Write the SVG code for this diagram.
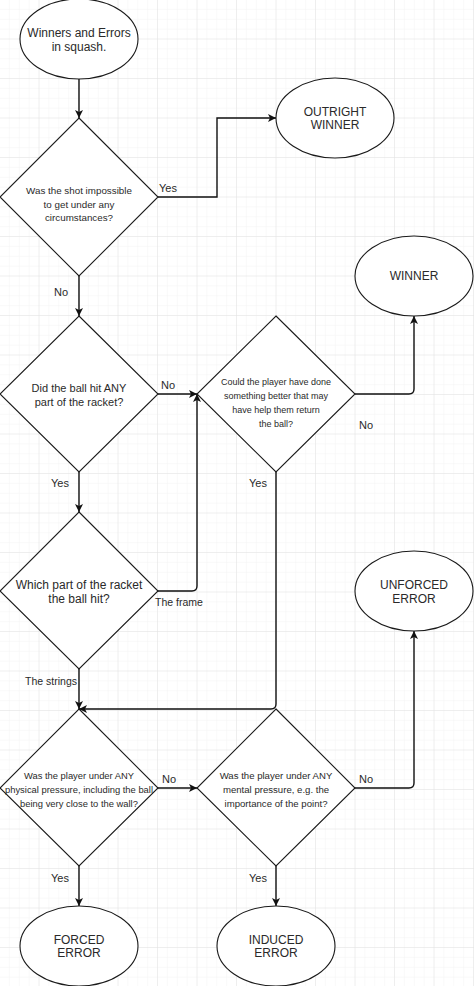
<svg xmlns="http://www.w3.org/2000/svg" width="474" height="986" viewBox="0 0 474 986">
<style>
.shape{fill:#fff;stroke:#1a1a1a;stroke-width:1.1}
.edge{fill:none;stroke:#111;stroke-width:1.4}
text{font-family:"Liberation Sans",Arial,sans-serif;fill:#2a2a2a;text-anchor:middle}
.big{font-size:12px}
.mid{font-size:11px}
.sm{font-size:9px}
.lbl{font-size:11px}
.lbl2{font-size:10.5px}
</style>
<defs>
<pattern id="minor" width="9.875" height="9.875" patternUnits="userSpaceOnUse">
<path d="M9.875 0V9.875H0" fill="none" stroke="#f3f3f3" stroke-width="1"/>
</pattern>
<pattern id="grid" width="39.5" height="39.5" patternUnits="userSpaceOnUse">
<rect width="39.5" height="39.5" fill="url(#minor)"/>
<path d="M39.5 0V39.5H0" fill="none" stroke="#e2e2e2" stroke-width="1"/>
</pattern>
<marker id="arr" markerWidth="10" markerHeight="10" refX="8" refY="4" orient="auto" markerUnits="userSpaceOnUse">
<path d="M0,0 L8,4 L0,8 L2,4 z" fill="#111"/>
</marker>
</defs>
<rect width="474" height="986" fill="#fff"/>
<rect width="474" height="986" fill="url(#grid)"/>

<g id="connectors">
<path class="edge" d="M79,79 L79,118" marker-end="url(#arr)"/>
<path class="edge" d="M158,197 L217,197 L217,118 L276,118" marker-end="url(#arr)"/>
<path class="edge" d="M79,276 L79,316" marker-end="url(#arr)"/>
<path class="edge" d="M158,394 L197,394" marker-end="url(#arr)"/>
<path class="edge" d="M355,394 L409,394 Q414,394 414,389 L414,316" marker-end="url(#arr)"/>
<path class="edge" d="M79,472 L79,512" marker-end="url(#arr)"/>
<path class="edge" d="M158,591 L192,591 Q197,591 197,586 L197,394" marker-end="url(#arr)"/>
<path class="edge" d="M79,669 L79,709" marker-end="url(#arr)"/>
<path class="edge" d="M276,472 L276,704 Q276,709 271,709 L79,709" marker-end="url(#arr)"/>
<path class="edge" d="M158,788 L197,788" marker-end="url(#arr)"/>
<path class="edge" d="M355,788 L409,788 Q414,788 414,783 L414,631" marker-end="url(#arr)"/>
<path class="edge" d="M79,866 L79,906" marker-end="url(#arr)"/>
<path class="edge" d="M276,866 L276,906" marker-end="url(#arr)"/>
<text class="lbl" x="168" y="192">Yes</text>
<text class="lbl" x="61" y="296">No</text>
<text class="lbl" x="168" y="389">No</text>
<text class="lbl" x="60" y="487">Yes</text>
<text class="lbl" x="366" y="429">No</text>
<text class="lbl" x="258" y="487">Yes</text>
<text class="lbl2" x="179" y="606">The frame</text>
<text class="lbl2" x="51" y="685">The strings</text>
<text class="lbl" x="169" y="783">No</text>
<text class="lbl" x="366" y="783">No</text>
<text class="lbl" x="60" y="882">Yes</text>
<text class="lbl" x="258" y="882">Yes</text>
</g>

<g id="start">
<ellipse class="shape" cx="79" cy="39" rx="59" ry="40"/>
<text class="big" x="79" y="37">Winners and Errors</text>
<text class="big" x="79" y="51">in squash.</text>
</g>

<g id="q-impossible">
<polygon class="shape" points="79,118 158,197 79,276 0,197"/>
<text style="font-size:9.8px" x="79" y="193.5">Was the shot impossible</text>
<text style="font-size:9.8px" x="79" y="207.5">to get under any</text>
<text style="font-size:9.8px" x="79" y="221">circumstances?</text>
</g>

<g id="outright-winner">
<ellipse class="shape" cx="335" cy="118" rx="59" ry="40"/>
<text class="big" x="335" y="116">OUTRIGHT</text>
<text class="big" x="335" y="129">WINNER</text>
</g>

<g id="q-hit-racket">
<polygon class="shape" points="79,316 158,394 79,472 0,394"/>
<text class="mid" x="79" y="392">Did the ball hit ANY</text>
<text class="mid" x="79" y="406">part of the racket?</text>
</g>

<g id="q-better">
<polygon class="shape" points="276,316 355,394 276,472 197,394"/>
<text class="sm" x="276" y="385">Could the player have done</text>
<text class="sm" x="276" y="399">something better that may</text>
<text class="sm" x="276" y="413">have help them return</text>
<text class="sm" x="276" y="427">the ball?</text>
</g>

<g id="winner">
<ellipse class="shape" cx="414" cy="276" rx="59" ry="40"/>
<text class="big" x="414" y="280">WINNER</text>
</g>

<g id="q-which-part">
<polygon class="shape" points="79,512 158,591 79,669 0,591"/>
<text class="big" x="79" y="589">Which part of the racket</text>
<text class="big" x="79" y="603">the ball hit?</text>
</g>

<g id="unforced-error">
<ellipse class="shape" cx="414" cy="591" rx="59" ry="40"/>
<text class="big" x="414" y="589">UNFORCED</text>
<text class="big" x="414" y="603">ERROR</text>
</g>

<g id="q-physical">
<polygon class="shape" points="79,709 158,788 79,866 0,788"/>
<text style="font-size:9.4px" x="79" y="779">Was the player under ANY</text>
<text style="font-size:9.4px" x="79" y="793">physical pressure, including the ball</text>
<text style="font-size:9.4px" x="79" y="806.5">being very close to the wall?</text>
</g>

<g id="q-mental">
<polygon class="shape" points="276,709 355,788 276,866 197,788"/>
<text style="font-size:9.6px" x="276" y="779">Was the player under ANY</text>
<text style="font-size:9.6px" x="276" y="793">mental pressure, e.g. the</text>
<text style="font-size:9.6px" x="276" y="807">importance of the point?</text>
</g>

<g id="forced-error">
<ellipse class="shape" cx="79" cy="946" rx="59" ry="40"/>
<text class="big" x="79" y="944">FORCED</text>
<text class="big" x="79" y="957">ERROR</text>
</g>

<g id="induced-error">
<ellipse class="shape" cx="276" cy="946" rx="59" ry="40"/>
<text class="big" x="276" y="944">INDUCED</text>
<text class="big" x="276" y="957">ERROR</text>
</g>
</svg>
